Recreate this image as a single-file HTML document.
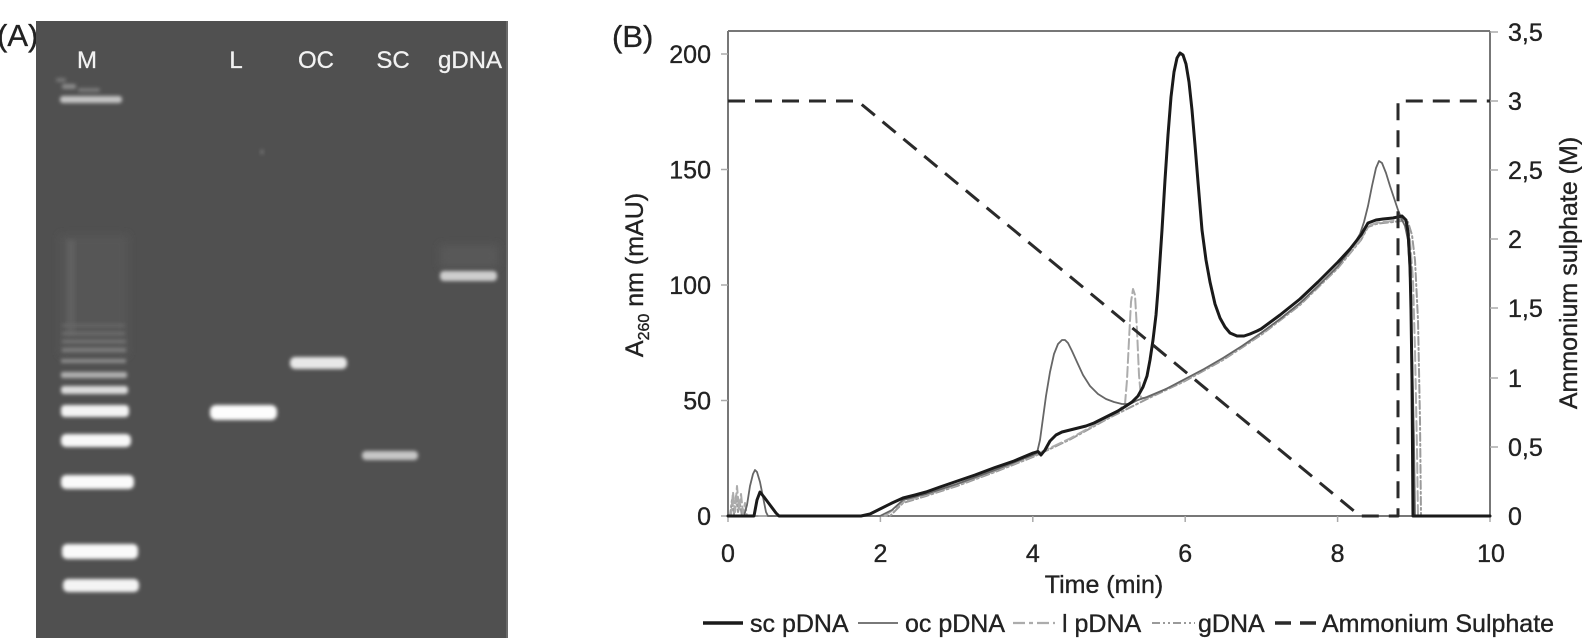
<!DOCTYPE html>
<html>
<head>
<meta charset="utf-8">
<style>
html,body{margin:0;padding:0;background:#fff;}
body{width:1582px;height:638px;overflow:hidden;}
svg{display:block;}
text{font-family:"Liberation Sans", Arial, sans-serif;}
</style>
</head>
<body>
<svg width="1582" height="638" viewBox="0 0 1582 638" xmlns="http://www.w3.org/2000/svg">
<defs>
  <filter id="b1" x="-20%" y="-100%" width="140%" height="300%"><feGaussianBlur stdDeviation="1.9"/></filter>
  <filter id="b2" x="-20%" y="-100%" width="140%" height="300%"><feGaussianBlur stdDeviation="2.4"/></filter>
  <filter id="b3" x="-50%" y="-50%" width="200%" height="200%"><feGaussianBlur stdDeviation="4"/></filter>
</defs>

<!-- ============ Panel A : gel ============ -->
<text x="-3" y="46" font-size="31" fill="#222" stroke="#222" stroke-width="0.35">(A)</text>
<rect x="36" y="21" width="472" height="617" fill="#505050"/>
<rect x="506" y="21" width="2" height="617" fill="#6a6a6a"/>
<!-- texture smears -->
<rect x="60" y="235" width="68" height="120" fill="#575757" filter="url(#b3)"/>
<rect x="67" y="240" width="8" height="95" fill="#606060" filter="url(#b2)"/>
<rect x="440" y="245" width="58" height="22" fill="#585858" filter="url(#b3)"/>

<!-- lane labels -->
<g font-size="24" fill="#f2f2f2" stroke="#f2f2f2" stroke-width="0.3" text-anchor="middle">
  <text x="87" y="68">M</text>
  <text x="236" y="68">L</text>
  <text x="316" y="68">OC</text>
  <text x="393" y="68">SC</text>
  <text x="470" y="68">gDNA</text>
</g>

<!-- marker wells / top -->
<g filter="url(#b1)">
  <rect x="60" y="96" width="62" height="7" rx="3" fill="#c4c4c4"/>
  <rect x="62" y="84" width="14" height="5" rx="2" fill="#8a8a8a"/>
  <rect x="78" y="88" width="22" height="4" rx="2" fill="#7a7a7a"/>
  <rect x="56" y="78" width="10" height="4" rx="2" fill="#777"/>
</g>
<circle cx="262" cy="152" r="2.5" fill="#6a6a6a" filter="url(#b1)"/>

<!-- marker ladder -->
<g filter="url(#b1)">
  <rect x="62" y="324" width="63" height="3" fill="#686868"/>
  <rect x="62" y="332" width="63" height="3" fill="#6e6e6e"/>
  <rect x="62" y="340" width="64" height="3" fill="#767676"/>
  <rect x="62" y="348" width="64" height="4" fill="#7e7e7e"/>
  <rect x="61" y="359" width="65" height="4" fill="#8c8c8c"/>
  <rect x="61" y="372" width="66" height="6" rx="2" fill="#b0b0b0"/>
  <rect x="61" y="386" width="67" height="8" rx="3" fill="#dcdcdc"/>
  <rect x="61" y="405" width="68" height="12" rx="4" fill="#f4f4f4"/>
  <rect x="61" y="434" width="70" height="13" rx="5" fill="#f8f8f8"/>
  <rect x="61" y="475" width="73" height="14" rx="5" fill="#fafafa"/>
  <rect x="62" y="544" width="76" height="15" rx="5" fill="#fafafa"/>
  <rect x="63" y="579" width="76" height="13" rx="5" fill="#f4f4f4"/>
</g>

<!-- sample bands -->
<g filter="url(#b1)">
  <rect x="210" y="405" width="67" height="15" rx="6" fill="#fdfdfd"/>
  <rect x="290" y="357" width="57" height="12" rx="5" fill="#e8e8e8"/>
  <rect x="362" y="451" width="56" height="9" rx="4" fill="#c6c6c6"/>
  <rect x="440" y="271" width="57" height="10" rx="4" fill="#cdcdcd"/>
</g>

<!-- ============ Panel B : chromatogram ============ -->
<text x="612" y="47" font-size="31" fill="#222" stroke="#222" stroke-width="0.35">(B)</text>

<!-- frame -->
<g stroke="#777" stroke-width="2" fill="none">
  <line x1="728" y1="31" x2="1490" y2="31"/>
  <line x1="728" y1="31" x2="728" y2="517"/>
  <line x1="1490" y1="31" x2="1490" y2="517"/>
  <line x1="727" y1="516" x2="1491" y2="516"/>
</g>
<!-- ticks -->
<g stroke="#aaa" stroke-width="1.5">
  <line x1="721" y1="54" x2="728" y2="54"/>
  <line x1="721" y1="169.5" x2="728" y2="169.5"/>
  <line x1="721" y1="285" x2="728" y2="285"/>
  <line x1="721" y1="400.5" x2="728" y2="400.5"/>
  <line x1="721" y1="516" x2="728" y2="516"/>
  <line x1="728" y1="516" x2="728" y2="522"/>
  <line x1="880.4" y1="516" x2="880.4" y2="522"/>
  <line x1="1032.8" y1="516" x2="1032.8" y2="522"/>
  <line x1="1185.2" y1="516" x2="1185.2" y2="522"/>
  <line x1="1337.6" y1="516" x2="1337.6" y2="522"/>
  <line x1="1490" y1="516" x2="1490" y2="522"/>
  <line x1="1490" y1="32" x2="1498" y2="32"/>
  <line x1="1490" y1="101" x2="1498" y2="101"/>
  <line x1="1490" y1="170" x2="1498" y2="170"/>
  <line x1="1490" y1="239" x2="1498" y2="239"/>
  <line x1="1490" y1="308" x2="1498" y2="308"/>
  <line x1="1490" y1="378" x2="1498" y2="378"/>
  <line x1="1490" y1="447" x2="1498" y2="447"/>
</g>

<g fill="#222" stroke="#222" stroke-width="0.35">
<!-- left tick labels -->
<g font-size="25" text-anchor="end">
  <text x="711" y="63">200</text>
  <text x="711" y="178.5">150</text>
  <text x="711" y="294">100</text>
  <text x="711" y="409.5">50</text>
  <text x="711" y="525">0</text>
</g>
<!-- bottom tick labels -->
<g font-size="25" text-anchor="middle">
  <text x="728" y="562">0</text>
  <text x="880.4" y="562">2</text>
  <text x="1032.8" y="562">4</text>
  <text x="1185.2" y="562">6</text>
  <text x="1337.6" y="562">8</text>
  <text x="1491" y="562">10</text>
  <text x="1104" y="593">Time (min)</text>
</g>
<!-- right tick labels -->
<g font-size="25">
  <text x="1508" y="41">3,5</text>
  <text x="1508" y="110">3</text>
  <text x="1508" y="179">2,5</text>
  <text x="1508" y="248">2</text>
  <text x="1508" y="317">1,5</text>
  <text x="1508" y="387">1</text>
  <text x="1508" y="456">0,5</text>
  <text x="1508" y="525">0</text>
</g>
<!-- axis titles -->
<text transform="translate(643,275) rotate(-90)" font-size="25" text-anchor="middle">A<tspan font-size="16" dy="6">260</tspan><tspan dy="-6"> nm (mAU)</tspan></text>
<text transform="translate(1577,273) rotate(-90)" font-size="25" text-anchor="middle">Ammonium sulphate (M)</text>
</g>

<!-- series -->
<g fill="none" stroke-linejoin="round" stroke-linecap="round">
  <!-- gDNA -->
  <polyline stroke="#9a9a9a" stroke-width="2" stroke-dasharray="8,3,2,3"
    points="728,516 730,516 732,500 734,514 736,496 738,512 740,504 742,516 890,516 903,503 926,496 957,486 995,472 1033,457 1071,439 1109,418 1147,399 1185,381 1223,360 1261,335 1300,305 1338,268 1361,240 1368,227 1376,224 1383,223 1393,222 1402,221 1408,222 1412,235 1415,260 1418,320 1420,420 1421,516 1490,516"/>
  <!-- l pDNA -->
  <polyline stroke="#acacac" stroke-width="2" stroke-dasharray="10,4"
    points="728,516 731,516 733,492 735,512 737,486 739,510 741,494 743,513 745,503 747,516 885,516 903,502 926,495 957,485 995,471 1033,456 1071,438 1109,417 1120,409 1125,404 1127,380 1129,340 1131,302 1133,289 1135,295 1137,330 1139,375 1141,398 1147,398 1185,380 1223,359 1261,334 1300,304 1338,267 1361,239 1368,226 1376,223 1383,222 1393,221 1402,219 1407,222 1410,240 1413,280 1415,350 1417,450 1418,516 1490,516"/>
  <!-- oc pDNA -->
  <polyline stroke="#666" stroke-width="1.8"
    points="728,516 744,516 747,505 750,486 753,474 755,470 757,472 760,482 763,497 766,512 768,516 880,516 892,510 903,500 926,494 957,484 995,470 1033,455 1037,453 1040,440 1043,418 1046,396 1050,372 1054,354 1058,344 1062,340 1065,340 1068,343 1072,351 1077,362 1083,375 1090,386 1098,394 1106,399 1114,402 1122,404 1130,404 1138,400 1147,397 1166,389 1185,379 1204,369 1223,358 1242,346 1261,333 1280,319 1300,303 1318,286 1338,266 1353,246 1360,234 1364,222 1368,206 1372,186 1376,168 1379,161 1382,163 1386,173 1390,186 1394,198 1398,210 1402,220 1405,226 1408,240 1410,280 1412,350 1414,440 1415,516 1490,516"/>
  <!-- sc pDNA -->
  <polyline stroke="#1a1a1a" stroke-width="3"
    points="728,516 754,516 757,500 760,492 764,497 770,505 776,513 779,516 857,516 861,516 870,514 880,509 892,503 903,498 915,495 926,492 940,487 956,481.5 975,475 995,467.5 1014,461 1033,453 1038,451.5 1041,455 1045,450 1050,441 1056,435 1062,432 1070,430 1078,428 1086,426 1094,423 1102,419 1110,415 1118,411 1126,406 1132,402 1138,396 1143,387 1147,376 1150,360 1153,340 1156,315 1158,290 1160,260 1162,230 1165,180 1168,135 1171,97 1174,72 1177,58 1180,53 1183,55 1186,64 1189,82 1192,110 1195,145 1198,182 1202,230 1206,260 1210,282 1215,304 1220,318 1225,327 1230,333 1237,336 1244,336 1250,334 1257,331 1261,329 1280,315 1300,299 1318,282 1338,262 1350,249 1361,235 1368,223 1376,220 1383,219 1393,218 1402,216 1406,220 1408,232 1410,265 1411,310 1412,380 1413,516 1490,516"/>
  <!-- Ammonium sulphate -->
  <polyline stroke="#2a2a2a" stroke-width="3" stroke-dasharray="17,10" stroke-linecap="butt"
    points="728,101 857.5,101 1360,516 1398,516 1398,101 1490,101"/>
</g>

<!-- legend -->
<g fill="none">
  <line x1="703" y1="623" x2="743" y2="623" stroke="#1a1a1a" stroke-width="3.5"/>
  <line x1="858" y1="623" x2="898" y2="623" stroke="#666" stroke-width="1.8"/>
  <line x1="1013" y1="623" x2="1055" y2="623" stroke="#acacac" stroke-width="2.2" stroke-dasharray="12,4,4,4"/>
  <line x1="1152" y1="623" x2="1195" y2="623" stroke="#9a9a9a" stroke-width="2" stroke-dasharray="8,3,2,3,2,3"/>
  <line x1="1275" y1="623" x2="1320" y2="623" stroke="#2a2a2a" stroke-width="3.5" stroke-dasharray="16,9"/>
</g>
<g font-size="25" fill="#222" stroke="#222" stroke-width="0.35">
  <text x="750" y="632">sc pDNA</text>
  <text x="905" y="632">oc pDNA</text>
  <text x="1062" y="632">l pDNA</text>
  <text x="1198" y="632">gDNA</text>
  <text x="1322" y="632">Ammonium Sulphate</text>
</g>
</svg>
</body>
</html>
